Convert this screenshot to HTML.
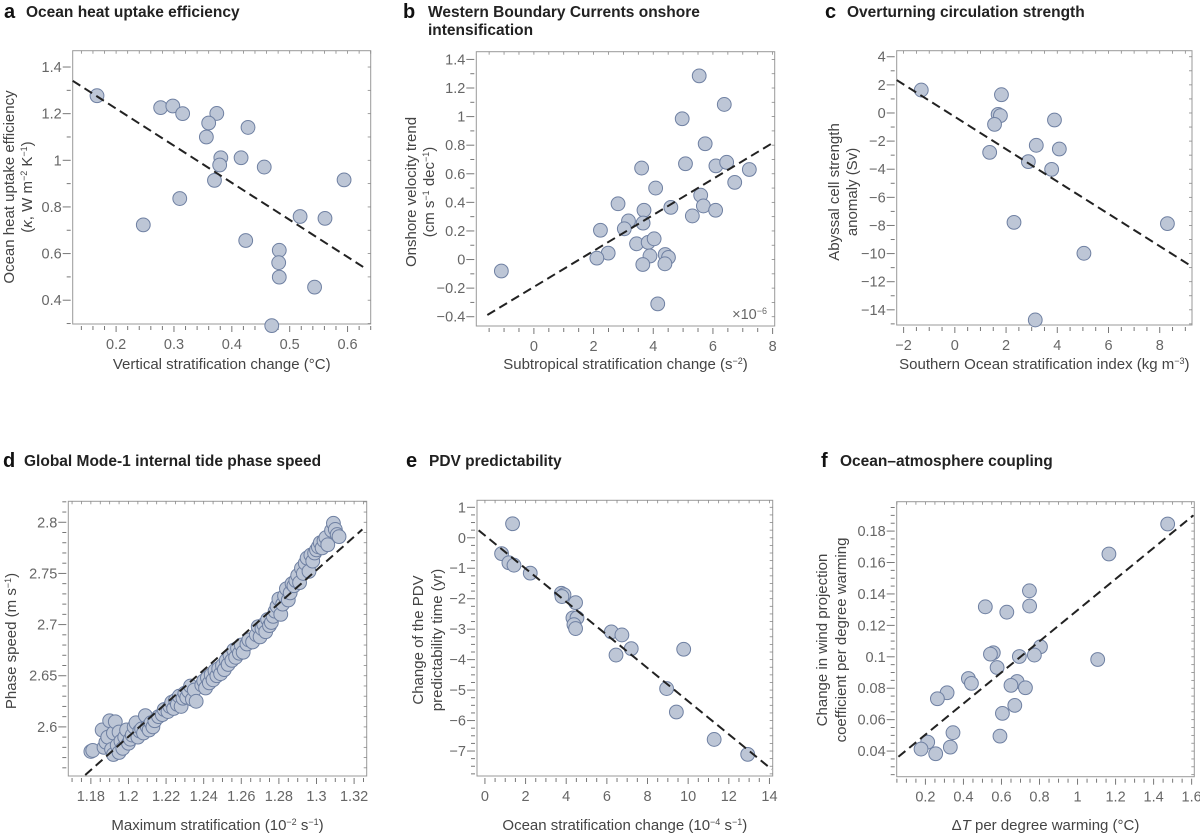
<!DOCTYPE html>
<html><head><meta charset="utf-8">
<style>
body{margin:0;background:#fff;}
svg{display:block;font-family:"Liberation Sans",Arial,sans-serif;}
.tk{font-size:14.5px;fill:#666;}
.at{font-size:15px;fill:#444;}
.ttl{font-size:15.5px;font-weight:bold;fill:#222;}
.let{font-size:20px;font-weight:bold;fill:#111;}
</style></head><body>
<svg id="fig" width="1200" height="836" viewBox="0 0 1200 836" xmlns="http://www.w3.org/2000/svg">
<g><text class="let" x="4" y="18">a</text><text class="ttl" x="26" y="17">Ocean heat uptake efficiency</text></g>
<g><text class="let" x="403" y="18">b</text><text class="ttl" x="428" y="17">Western Boundary Currents onshore</text><text class="ttl" x="428" y="35">intensification</text></g>
<g><text class="let" x="825" y="18">c</text><text class="ttl" x="847" y="17">Overturning circulation strength</text></g>
<g><text class="let" x="3" y="467">d</text><text class="ttl" x="24" y="466">Global Mode-1 internal tide phase speed</text></g>
<g><text class="let" x="406" y="467">e</text><text class="ttl" x="429" y="466">PDV predictability</text></g>
<g><text class="let" x="821" y="467">f</text><text class="ttl" x="840" y="466">Ocean–atmosphere coupling</text></g>
</svg>
<script>
// Panel a
const aX=[0.167,0.277,0.298,0.315,0.374,0.360,0.356,0.428,0.381,0.379,0.416,0.456,0.370,0.594,0.310,0.247,0.518,0.561,0.424,0.482,0.481,0.482,0.543,0.469];
const aY=[1.277,1.226,1.233,1.200,1.201,1.160,1.100,1.141,1.011,0.980,1.011,0.971,0.914,0.916,0.836,0.723,0.759,0.751,0.656,0.614,0.561,0.499,0.456,0.291];
const aFit=[[0.125,1.341],[0.633,0.533]];
const aXTicks=[0.2,0.3,0.4,0.5,0.6];
const aYTicks=[0.4,0.6,0.8,1,1.2,1.4];
// Panel b
const bX=[5.54,6.38,4.97,5.74,5.08,6.10,6.46,7.22,6.73,3.61,4.08,2.82,5.59,5.68,4.59,6.09,5.31,3.69,3.66,3.17,3.03,2.23,3.44,3.83,4.03,2.49,2.11,3.89,4.40,4.51,3.65,4.39,-1.09,4.15];
const bY=[1.285,1.085,0.985,0.81,0.67,0.655,0.68,0.63,0.54,0.64,0.50,0.39,0.45,0.375,0.365,0.345,0.305,0.345,0.255,0.27,0.215,0.205,0.11,0.12,0.145,0.045,0.01,0.025,0.035,0.015,-0.035,-0.03,-0.08,-0.31];
const bFit=[[-1.56,-0.388],[8.02,0.818]];
const bXTicks=[0,2,4,6,8];
const bYTicks=[-0.4,-0.2,0,0.2,0.4,0.6,0.8,1,1.2,1.4];
// Panel c
const cX=[-1.31,1.82,1.69,1.78,1.55,3.89,1.36,3.18,4.08,2.87,3.78,2.31,8.30,5.04,3.14];
const cY=[1.63,1.30,-0.10,-0.19,-0.81,-0.50,-2.80,-2.30,-2.56,-3.46,-4.01,-7.78,-7.87,-9.98,-14.72];
const cFit=[[-2.27,2.34],[9.16,-10.81]];
const cXTicks=[-2,0,2,4,6,8];
const cYTicks=[-14,-12,-10,-8,-6,-4,-2,0,2,4];
// Panel d
const dX=[1.180,1.181,1.186,1.187,1.188,1.189,1.190,1.191,1.192,1.192,1.193,1.194,1.195,1.195,1.196,1.197,1.198,1.199,1.200,1.201,1.202,1.203,1.204,1.205,1.206,1.207,1.208,1.209,1.210,1.211,1.212,1.213,1.214,1.216,1.218,1.219,1.221,1.222,1.223,1.224,1.225,1.226,1.227,1.228,1.229,1.230,1.231,1.232,1.233,1.234,1.235,1.236,1.239,1.240,1.241,1.242,1.243,1.244,1.245,1.246,1.247,1.248,1.249,1.250,1.251,1.252,1.253,1.254,1.255,1.256,1.257,1.258,1.259,1.260,1.261,1.263,1.264,1.266,1.268,1.269,1.270,1.271,1.272,1.273,1.274,1.275,1.276,1.277,1.278,1.279,1.280,1.281,1.282,1.283,1.284,1.285,1.286,1.287,1.288,1.289,1.290,1.291,1.292,1.293,1.294,1.295,1.296,1.297,1.298,1.299,1.300,1.301,1.302,1.303,1.304,1.305,1.306,1.308,1.309,1.310,1.311,1.312];
const dY=[2.576,2.577,2.597,2.580,2.585,2.590,2.606,2.578,2.594,2.573,2.605,2.582,2.575,2.595,2.586,2.579,2.590,2.597,2.584,2.588,2.592,2.600,2.604,2.590,2.596,2.598,2.594,2.611,2.600,2.597,2.604,2.600,2.606,2.610,2.612,2.617,2.615,2.620,2.624,2.618,2.626,2.622,2.630,2.620,2.628,2.633,2.629,2.635,2.640,2.627,2.636,2.625,2.641,2.645,2.638,2.648,2.643,2.651,2.646,2.655,2.650,2.657,2.652,2.660,2.656,2.665,2.661,2.670,2.665,2.675,2.668,2.677,2.672,2.680,2.673,2.681,2.685,2.683,2.690,2.698,2.688,2.696,2.700,2.693,2.705,2.699,2.702,2.708,2.713,2.718,2.725,2.710,2.720,2.728,2.735,2.724,2.731,2.740,2.738,2.743,2.748,2.741,2.755,2.750,2.760,2.765,2.752,2.768,2.762,2.770,2.773,2.776,2.780,2.775,2.782,2.785,2.778,2.792,2.799,2.793,2.788,2.786];
const dFit=[[1.177,2.553],[1.3244,2.793]];
const dXTicks=[1.18,1.2,1.22,1.24,1.26,1.28,1.3,1.32];
const dYTicks=[2.6,2.65,2.7,2.75,2.8];
// Panel e
const eX=[1.36,0.82,1.18,1.43,2.23,3.76,3.89,3.79,4.46,4.33,4.53,4.38,4.46,6.22,6.74,6.45,7.20,9.78,8.94,9.42,11.28,12.93];
const eY=[0.46,-0.52,-0.82,-0.90,-1.16,-1.82,-1.87,-1.93,-2.13,-2.63,-2.63,-2.85,-2.98,-3.09,-3.19,-3.85,-3.64,-3.66,-4.95,-5.72,-6.62,-7.11];
const eFit=[[-0.31,0.245],[14.11,-7.6]];
const eXTicks=[0,2,4,6,8,10,12,14];
const eYTicks=[-7,-6,-5,-4,-3,-2,-1,0,1];
// Panel f
const fX=[1.474,1.165,0.747,0.748,0.515,0.628,0.805,0.557,0.542,0.694,0.773,1.106,0.577,0.426,0.442,0.682,0.650,0.726,0.314,0.263,0.670,0.605,0.345,0.592,0.331,0.212,0.177,0.254];
const fY=[0.1845,0.1654,0.1420,0.1323,0.1318,0.1284,0.1064,0.1026,0.1017,0.1002,0.1011,0.0983,0.0932,0.0862,0.0831,0.0843,0.0818,0.0803,0.0771,0.0733,0.0691,0.0640,0.0517,0.0495,0.0425,0.0457,0.0413,0.0383];
const fFit=[[0.058,0.0364],[1.609,0.190]];
const fXTicks=[0.2,0.4,0.6,0.8,1,1.2,1.4,1.6];
const fYTicks=[0.04,0.06,0.08,0.1,0.12,0.14,0.16,0.18];

const NS="http://www.w3.org/2000/svg";
const svg=document.getElementById('fig');
function mk(tag,attrs,parent){const e=document.createElementNS(NS,tag);for(const k in attrs)e.setAttribute(k,attrs[k]);(parent||svg).appendChild(e);return e;}
function fmt(v){let s=String(+v.toFixed(4));return s.replace('-','−');}

function panel(id,box,xd,yd,xs,ys,xt,yt,xminor,yminor,fit,xTitle,yTitleLines,yTitleX,yTitleY,xTitleY){
  const g=document.createElementNS(NS,'g');
  
  
  svg.appendChild(g);
  const sx=v=>box.L+(v-xd[0])/(xd[1]-xd[0])*(box.R-box.L);
  const sy=v=>box.B-(v-yd[0])/(yd[1]-yd[0])*(box.B-box.T);
  const fr=mk('rect',{x:box.L,y:box.T,width:box.R-box.L,height:box.B-box.T,fill:'none',stroke:'#999','stroke-width':1},g);
  
  
  const tg=document.createElementNS(NS,'g');g.appendChild(tg);
  
  
  const start=Math.ceil((xd[0]-1e-9)/xminor), end=Math.floor((xd[1]+1e-9)/xminor);
  for(let i=start;i<=end;i++){const v=i*xminor;const X=sx(v);
    const maj=xt.some(t=>Math.abs(t-v)<xminor/10);
    mk('line',{x1:X,x2:X,y1:box.B+2,y2:box.B+(maj?8:6),stroke:'#777','stroke-width':1},tg);
    mk('line',{x1:X,x2:X,y1:box.T,y2:box.T+3,stroke:'#888','stroke-width':0.8},tg);}
  const ys0=Math.ceil((yd[0]-1e-9)/yminor), ye=Math.floor((yd[1]+1e-9)/yminor);
  for(let i=ys0;i<=ye;i++){const v=i*yminor;const Y=sy(v);
    const maj=yt.some(t=>Math.abs(t-v)<yminor/10);
    mk('line',{x1:box.L-2,x2:box.L-(maj?10:6),y1:Y,y2:Y,stroke:'#777','stroke-width':1},tg);
    mk('line',{x1:box.R,x2:box.R-3,y1:Y,y2:Y,stroke:'#888','stroke-width':0.8},tg);}
  xt.forEach(v=>{const t=mk('text',{x:sx(v),y:box.B+25,'text-anchor':'middle',class:'tk'},g);t.textContent=fmt(v);
    
    });
  yt.forEach(v=>{const t=mk('text',{x:box.L-11,y:sy(v)+5,'text-anchor':'end',class:'tk'},g);t.textContent=fmt(v);
    
    });
  const xl=mk('text',{x:(box.L+box.R)/2,y:xTitleY,'text-anchor':'middle',class:'at'},g);xl.innerHTML=xTitle;
  
  
  yTitleLines.forEach((ln,i)=>{const t=mk('text',{x:0,y:0,'text-anchor':'middle',class:'at',transform:`translate(${yTitleX[i]},${yTitleY}) rotate(-90)`},g);t.innerHTML=ln;
    
    });
  const pg=document.createElementNS(NS,'g');g.appendChild(pg);
  
  
  xs.forEach((x,i)=>{const c=mk('circle',{cx:sx(x),cy:sy(ys[i]),r:6.9,fill:'#bdc6d6',stroke:'#6f80a2','stroke-width':1},pg);
    
    });
  const fl=mk('line',{x1:sx(fit[0][0]),y1:sy(fit[0][1]),x2:sx(fit[1][0]),y2:sy(fit[1][1]),stroke:'#222','stroke-width':2,'stroke-dasharray':'9,5'},g);
  
  
  return {sx,sy};
}
panel('a',{L:72.7,R:370.7,T:50.7,B:324},[0.125,0.64],[0.298,1.47],aX,aY,aXTicks,aYTicks,0.02,0.1,aFit,
 'Vertical stratification change (°C)',['Ocean heat uptake efficiency','(<tspan font-style="italic">κ</tspan>, W m<tspan dy="-5" font-size="9">−2</tspan><tspan dy="5"> K</tspan><tspan dy="-5" font-size="9">−1</tspan><tspan dy="5">)</tspan>'],[14,32],187,369);
panel('b',{L:476.3,R:774.7,T:51.7,B:326},[-1.93,8.07],[-0.465,1.454],bX,bY,bXTicks,bYTicks,0.5,0.1,bFit,
 'Subtropical stratification change (s<tspan dy="-5" font-size="9">−2</tspan><tspan dy="5">)</tspan>',['Onshore velocity trend','(cm s<tspan dy="-5" font-size="9">−1</tspan><tspan dy="5"> dec</tspan><tspan dy="-5" font-size="9">−1</tspan><tspan dy="5">)</tspan>'],[416,434],192,369);
const ex=mk('text',{x:767,y:319,'text-anchor':'end',class:'tk',fill:'#444'});ex.innerHTML='×10<tspan dy="-5" font-size="9">−6</tspan>';


panel('c',{L:896.7,R:1192,T:50.7,B:325},[-2.27,9.26],[-15.08,4.43],cX,cY,cXTicks,cYTicks,0.5,1,cFit,
 'Southern Ocean stratification index (kg m<tspan dy="-5" font-size="9">−3</tspan><tspan dy="5">)</tspan>',['Abyssal cell strength','anomaly (Sv)'],[839,857],192,369);
panel('d',{L:68.3,R:366.7,T:501.3,B:776},[1.168,1.3267],[2.552,2.8205],dX,dY,dXTicks,dYTicks,0.005,0.01,dFit,
 'Maximum stratification (10<tspan dy="-5" font-size="9">−2</tspan><tspan dy="5"> s</tspan><tspan dy="-5" font-size="9">−1</tspan><tspan dy="5">)</tspan>',['Phase speed (m s<tspan dy="-5" font-size="9">−1</tspan><tspan dy="5">)</tspan>'],[16],641,830);
panel('e',{L:477,R:772.7,T:500.3,B:776},[-0.39,14.16],[-7.82,1.23],eX,eY,eXTicks,eYTicks,0.5,0.25,eFit,
 'Ocean stratification change (10<tspan dy="-5" font-size="9">−4</tspan><tspan dy="5"> s</tspan><tspan dy="-5" font-size="9">−1</tspan><tspan dy="5">)</tspan>',['Change of the PDV','predictability time (yr)'],[423,442],640,830);
panel('f',{L:896.7,R:1194.3,T:501.7,B:776.7},[0.049,1.614],[0.0237,0.1987],fX,fY,fXTicks,fYTicks,0.05,0.005,fFit,
 'Δ<tspan font-style="italic">T</tspan> per degree warming (°C)',['Change in wind projection','coefficient per degree warming'],[827,846],640,830);
</script>
</body></html>
